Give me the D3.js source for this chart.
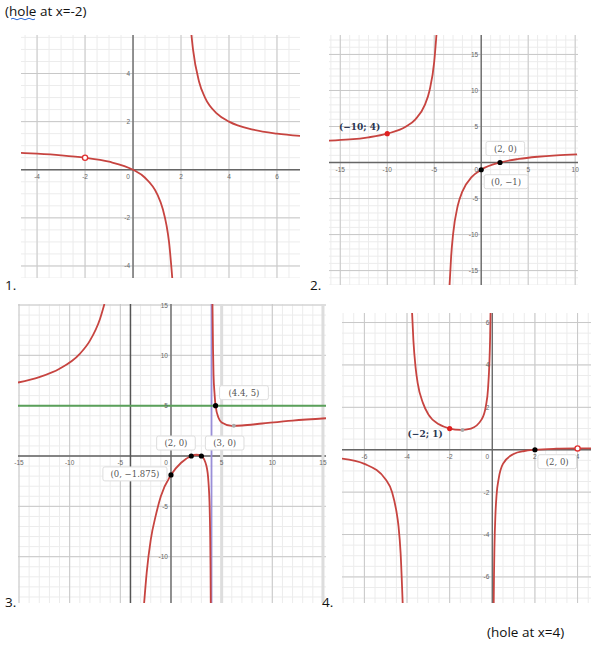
<!DOCTYPE html>
<html><head><meta charset="utf-8">
<script src="https://cdn.jsdelivr.net/npm/d3@7/dist/d3.min.js"></script>
<style>body{margin:0;background:#fff}svg{display:block}</style>
</head><body>
<svg id="c" width="591" height="646"></svg>
<script>
// ---- data ----
const p1Left  = [[-4.67,0.70],[-4,0.667],[-3,0.6],[-2,0.5],[-1,0.333],[0,0],[0.5,-0.333],[1,-1],[1.25,-1.667],[1.4,-2.333],[1.5,-3],[1.64,-4.56]];
const p1Right = [[2.43,5.65],[2.5,5],[2.75,3.667],[3,3],[3.5,2.333],[4,2],[5,1.667],[6,1.5],[7,1.4]];
const p1Holes = [[-2,0.5]];
const p1XTicks = [-4,-2,0,2,4,6], p1YTicks = [4,2,-2,-4];

const p2Left  = [[-16.2,3.03],[-14,3.2],[-12,3.5],[-10,4],[-8,5],[-7,6],[-6,8],[-5.5,10],[-5,14],[-4.76,17.8]];
const p2Right = [[-3.37,-17],[-3.2,-13],[-3,-10],[-2.5,-6],[-2,-4],[-1,-2],[0,-1],[2,0],[4,0.5],[6,0.8],[8,1],[10.2,1.14]];
const p2Points = [{x:-10,y:4,c:"red",label:"(−10; 4)",bold:true,dy:-4},{x:2,y:0,c:"black",label:"(2, 0)",box:"above"},{x:0,y:-1,c:"black",label:"(0, −1)",box:"below"}];
const p2XTicks = [-15,-10,-5,0,5,10], p2YTicks = [15,10,5,-5,-10,-15];

const p3Left  = [[-15.1,7.3],[-13,7.84],[-11,8.67],[-9,10.15],[-8,11.46],[-7,13.64],[-6.57,15.1]];
const p3Mid   = [[-2.65,-14.6],[-2.4,-11.6],[-2,-8.33],[-1.5,-5.9],[-1,-4],[0,-1.875],[1,-0.667],[2,0],[2.5,0.128],[3,0],[3.5,-1],[3.7,-2.6],[3.8,-4.6],[3.87,-8],[3.9,-10.8],[3.927,-14.6]];
const p3Right = [[4.095,15.1],[4.15,10.6],[4.2,8.05],[4.3,6.2],[4.4,5],[4.7,3.77],[5,3.33],[6,3],[7,3.03],[9,3.23],[12,3.52],[15.3,3.75]];
const p3Points = [{x:2,y:0,c:"black",label:"(2, 0)",box:"aboveL"},{x:3,y:0,c:"black",label:"(3, 0)",box:"aboveR"},{x:0,y:-1.875,c:"black",label:"(0, −1.875)",box:"left"},{x:4.4,y:5,c:"black",label:"(4.4, 5)",box:"aboveR"},{x:6.2,y:3,c:"#aaa"}];
const p3XTicks = [-15,-10,-5,0,5,10,15], p3YTicks = [15,10,5,-5,-10];
const p3HLine = 5, p3VAsym = 4, p3VDark = -4;

const p4Left  = [[-7.05,-0.42],[-6,-0.667],[-5,-1.4],[-4.7,-2.0],[-4.5,-2.89],[-4.4,-3.6],[-4.3,-4.88],[-4.204,-7.23]];
const p4Mid   = [[-3.762,6.45],[-3.7,5.14],[-3.6,3.9],[-3.5,3.14],[-3.25,2.2],[-3,1.667],[-2.5,1.2],[-2,1],[-1.5,0.933],[-1,1],[-0.5,1.43],[-0.3,2.07],[-0.2,2.89],[-0.1,5.38],[-0.083,6.45]];
const p4Right = [[0.066,-7.23],[0.08,-5.9],[0.1,-4.63],[0.15,-3.0],[0.2,-2.14],[0.3,-1.36],[0.5,-0.667],[1,-0.2],[1.5,-0.06],[2,0],[3,0.048],[4,0.0625],[4.63,0.066]];
const p4Points = [{x:-2,y:1,c:"red",label:"(−2; 1)",bold:true,dy:8},{x:-1.4,y:0.93,c:"#aaa"},{x:2,y:0,c:"black",label:"(2, 0)",box:"below"}];
const p4Holes = [[4,0.0625]];
const p4XTicks = [-6,-4,-2,0,2,4], p4YTicks = [6,4,2,-2,-4,-6];

// ---- drawing ----
const svg = d3.select("#c");
const RED = "#c74440";

function panel(o){
  const g = svg.append("g");
  const x = d3.scaleLinear().domain(o.xd).range([o.x0,o.x1]);
  const y = d3.scaleLinear().domain(o.yd).range([o.y1,o.y0]);
  const id = "clip"+Math.random().toString(36).slice(2);
  svg.append("clipPath").attr("id",id).append("rect").attr("x",o.x0).attr("y",o.y0).attr("width",o.x1-o.x0).attr("height",o.y1-o.y0);
  g.attr("clip-path",`url(#${id})`);
  const minorX = d3.range(Math.ceil(o.xd[0]/o.minor)*o.minor, o.xd[1], o.minor);
  const minorY = d3.range(Math.ceil(o.yd[0]/o.minor)*o.minor, o.yd[1], o.minor);
  g.selectAll(".mx").data(minorX).join("line").attr("x1",d=>x(d)).attr("x2",d=>x(d)).attr("y1",o.y0).attr("y2",o.y1).attr("stroke","#ececec");
  g.selectAll(".my").data(minorY).join("line").attr("y1",d=>y(d)).attr("y2",d=>y(d)).attr("x1",o.x0).attr("x2",o.x1).attr("stroke","#ececec");
  const majX = minorX.filter(d=>Math.abs(d/o.major-Math.round(d/o.major))<1e-6);
  const majY = minorY.filter(d=>Math.abs(d/o.major-Math.round(d/o.major))<1e-6);
  g.selectAll(".Mx").data(majX).join("line").attr("x1",d=>x(d)).attr("x2",d=>x(d)).attr("y1",o.y0).attr("y2",o.y1).attr("stroke","#c8c8c8");
  g.selectAll(".My").data(majY).join("line").attr("y1",d=>y(d)).attr("y2",d=>y(d)).attr("x1",o.x0).attr("x2",o.x1).attr("stroke","#c8c8c8");
  g.append("line").attr("x1",x(0)).attr("x2",x(0)).attr("y1",o.y0).attr("y2",o.y1).attr("stroke","#666").attr("stroke-width",1.3);
  g.append("line").attr("y1",y(0)).attr("y2",y(0)).attr("x1",o.x0).attr("x2",o.x1).attr("stroke","#666").attr("stroke-width",1.3);
  if(o.extra) o.extra(g,x,y);
  const lab = svg.append("g").attr("font-family","Arial, Liberation Sans, sans-serif").attr("font-size",6.5).attr("fill","#666");
  o.xt.forEach(t=>{ lab.append("text").attr("x",t===0?x(0)-5:x(t)).attr("y",y(0)+9).attr("text-anchor","middle").text(t); });
  o.yt.forEach(t=>{ lab.append("text").attr("x",x(0)-3).attr("y",y(t)+2.5).attr("text-anchor","end").text(t); });
  const line = d3.line().x(d=>x(d[0])).y(d=>y(d[1])).curve(d3.curveMonotoneX);
  o.curves.forEach(c=>g.append("path").attr("d",line(c)).attr("fill","none").attr("stroke",RED).attr("stroke-width",1.8));
  (o.holes||[]).forEach(h=>svg.append("circle").attr("cx",x(h[0])).attr("cy",y(h[1])).attr("r",2.6).attr("fill","#fff").attr("stroke","#e03030").attr("stroke-width",1.3));
  (o.pts||[]).forEach(p=>{
    svg.append("circle").attr("cx",x(p.x)).attr("cy",y(p.y)).attr("r",p.c==="#aaa"?2:2.6).attr("fill",p.c==="red"?"#e02020":p.c);
    if(!p.label) return;
    if(p.bold){
      svg.append("text").attr("x",x(p.x)-7).attr("y",y(p.y)+p.dy).attr("text-anchor","end").attr("font-family","DejaVu Serif, serif").attr("font-weight","bold").attr("font-size",9).attr("fill","#2a3550").text(p.label);
      return;
    }
    const fs=8.5, w=p.label.length*5.1+8, h=14;
    let bx,by;
    if(p.box==="above"){bx=x(p.x)-14;by=y(p.y)-21;}
    else if(p.box==="below"){bx=x(p.x)+3;by=y(p.y)+5;}
    else if(p.box==="aboveL"){bx=x(p.x)-w+4;by=y(p.y)-20;}
    else if(p.box==="aboveR"){bx=x(p.x)+4;by=y(p.y)-20;}
    else {bx=x(p.x)-w-4;by=y(p.y)-8;}
    svg.append("rect").attr("x",bx).attr("y",by).attr("width",w).attr("height",h).attr("rx",2).attr("fill","#fff").attr("stroke","#ddd");
    svg.append("text").attr("x",bx+w/2).attr("y",by+10).attr("text-anchor","middle").attr("font-family","DejaVu Serif, serif").attr("font-size",fs).attr("fill","#555").text(p.label);
  });
}

panel({x0:21,x1:300,y0:35,y1:278,xd:[-4.67,6.96],yd:[-4.5,5.6],minor:0.5,major:2,xt:p1XTicks,yt:p1YTicks,curves:[p1Left,p1Right],holes:p1Holes});
panel({x0:329,x1:578,y0:35,y1:285,xd:[-16.2,10.3],yd:[-17,17.7],minor:1,major:5,xt:p2XTicks,yt:p2YTicks,curves:[p2Left,p2Right],pts:p2Points});
panel({x0:18,x1:326,y0:304,y1:603,xd:[-15.1,15.3],yd:[-14.6,15.1],minor:1,major:5,xt:p3XTicks,yt:p3YTicks,curves:[p3Left,p3Mid,p3Right],pts:p3Points,
  extra:(g,x,y)=>{
    g.append("line").attr("x1",x(5)).attr("x2",x(5)).attr("y1",304).attr("y2",603).attr("stroke","#ddd").attr("stroke-width",3);
    g.append("line").attr("x1",x(15)).attr("x2",x(15)).attr("y1",304).attr("y2",603).attr("stroke","#ddd").attr("stroke-width",3);
    g.append("line").attr("x1",x(p3VDark)).attr("x2",x(p3VDark)).attr("y1",304).attr("y2",603).attr("stroke","#555").attr("stroke-width",1.5);
    g.append("line").attr("x1",x(p3VAsym)).attr("x2",x(p3VAsym)).attr("y1",304).attr("y2",603).attr("stroke","#9a8fd8").attr("stroke-width",1.8);
    g.append("line").attr("y1",y(p3HLine)).attr("y2",y(p3HLine)).attr("x1",18).attr("x2",326).attr("stroke","#5aa05a").attr("stroke-width",2);
  }});
panel({x0:342,x1:591,y0:313,y1:603,xd:[-7.05,4.63],yd:[-7.23,6.45],minor:0.5,major:2,xt:p4XTicks,yt:p4YTicks,curves:[p4Left,p4Mid,p4Right],pts:p4Points,holes:p4Holes});

const T = svg.append("g").attr("font-family","Open Sans, Liberation Sans, sans-serif").attr("font-size",13.5).attr("fill","#111");
T.append("text").attr("x",5).attr("y",16).text("(hole at x=-2)");
svg.append("path").attr("d","M11,19 q2,-1.5 4,0 t4,0 t4,0 t4,0 t4,0 t4,0").attr("fill","none").attr("stroke","#2a6ad8").attr("stroke-width",1);
T.append("text").attr("x",5).attr("y",290).text("1.");
T.append("text").attr("x",310).attr("y",290).text("2.");
T.append("text").attr("x",5).attr("y",607).text("3.");
T.append("text").attr("x",322).attr("y",607).text("4.");
T.append("text").attr("x",487).attr("y",637).text("(hole at x=4)");
</script>
</body></html>
